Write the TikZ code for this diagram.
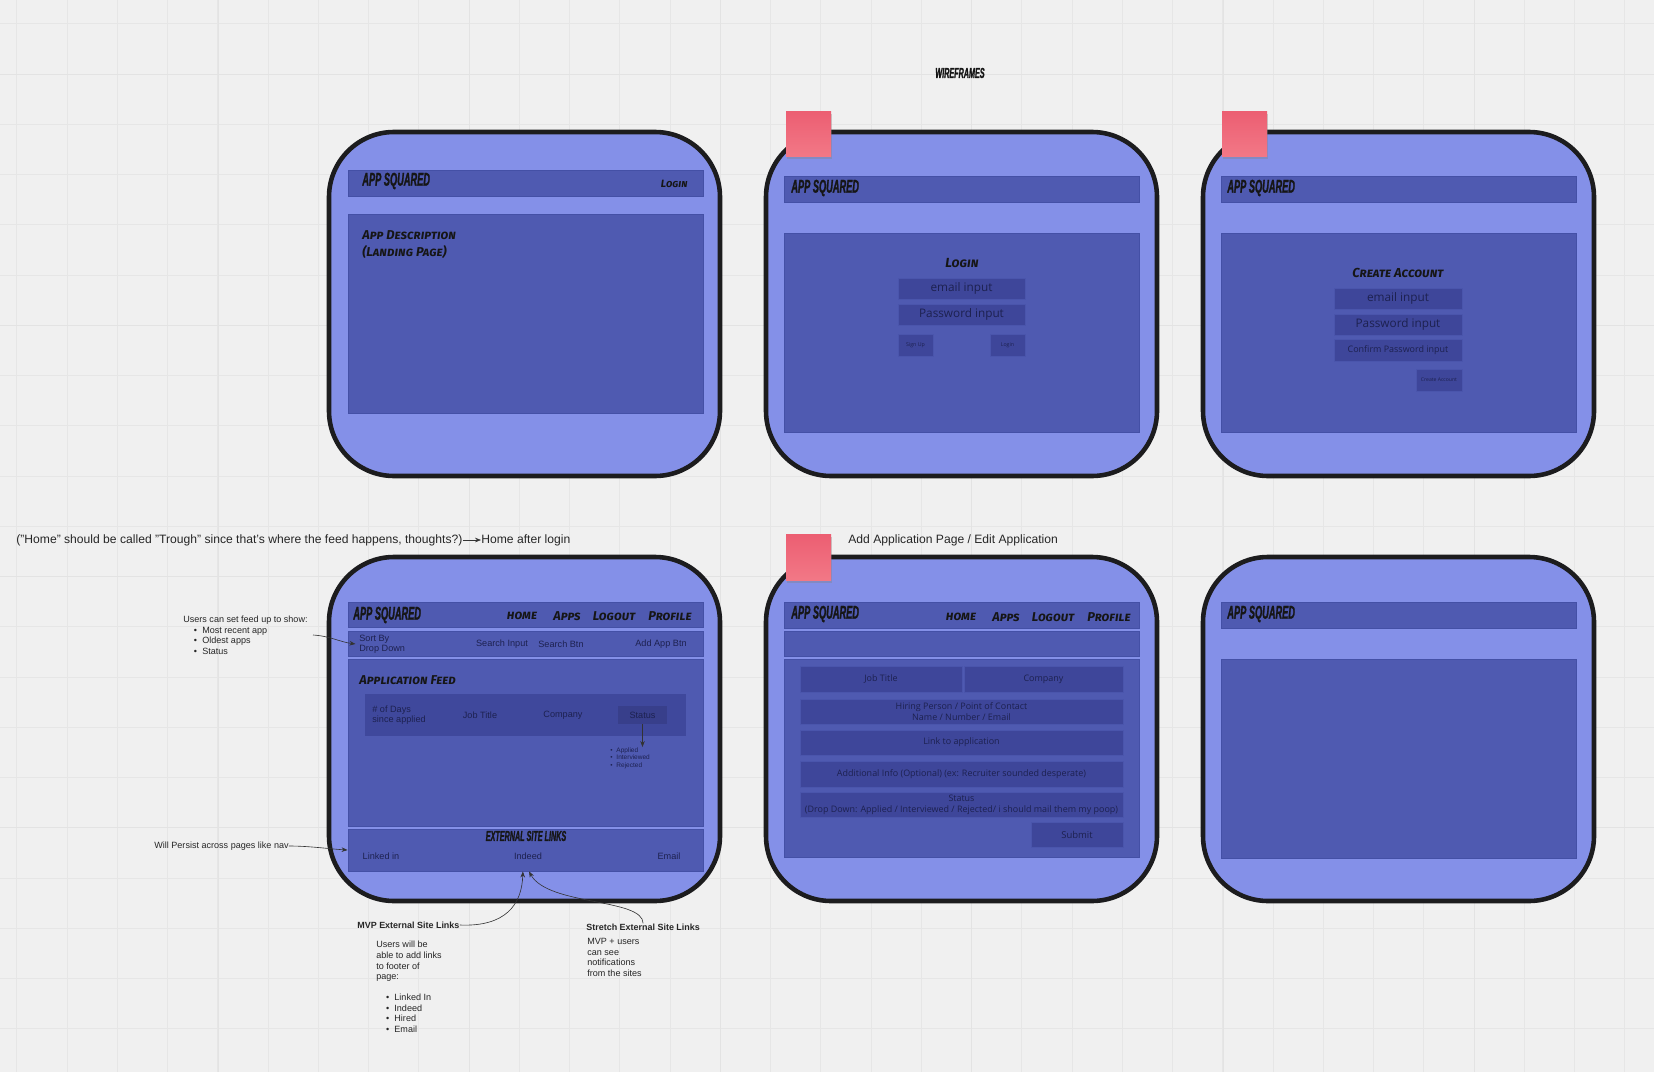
\documentclass[tikz,border=0pt]{standalone}
\usepackage{fontspec}
\setmainfont{Liberation Sans}
\newfontfamily\opensans{Open Sans}
\newfontfamily\logofont[FakeStretch=0.5, FakeBold=1.2]{Liberation Sans}
\newfontfamily\handfont[Letters=SmallCaps]{Fira Sans}
\usetikzlibrary{arrows.meta,fit,shadows}

\definecolor{bgcol}{HTML}{F0F0F0}
\definecolor{gridcol}{HTML}{E6E6E6}
\definecolor{gridmaj}{HTML}{E3E3E3}
\definecolor{framefill}{HTML}{8490E8}
\definecolor{framebd}{HTML}{1C1C1E}
\definecolor{panelfill}{HTML}{4F5AB1}
\definecolor{panelbd}{HTML}{4450A6}
\definecolor{fieldfill}{HTML}{3E469A}
\definecolor{fieldbd}{HTML}{4A55AC}
\definecolor{fieldtxt}{HTML}{1D2150}
\definecolor{ink}{HTML}{161616}
\definecolor{notetxt}{HTML}{262626}
\definecolor{arrowcol}{HTML}{333333}
\definecolor{stickytop}{HTML}{EC5E72}
\definecolor{stickybot}{HTML}{F27886}

\newcommand\fsz[2]{\fontsize{#1}{#2}\selectfont}

\begin{document}
\begin{tikzpicture}[x=0.02cm, y=-0.02cm,
  frame/.style={draw=framebd, line width=2.6pt, fill=framefill, rounded corners=1.3cm, inner sep=0pt},
  panel/.style={draw=panelbd, line width=0.5pt, fill=panelfill, inner sep=0pt},
  field/.style={draw=fieldbd, line width=0.4pt, fill=fieldfill, inner sep=0pt},
  flbl/.style={font=\opensans\fsz{5.1}{6.3}, text=fieldtxt, inner sep=0pt, align=center},
  sticky/.style={top color=stickytop, bottom color=stickybot, inner sep=0pt,
    drop shadow={shadow xshift=0.4pt, shadow yshift=-1.6pt, opacity=0.35}},
  logo/.style={font=\logofont\bfseries\itshape\fsz{10.5}{12}, text=ink, inner sep=0pt},
  hand/.style={font=\handfont\bfseries\itshape\fsz{7.3}{9.6}, text=ink, inner sep=0pt, align=left},
  wtxt/.style={font=\fsz{5.2}{5.7}, text=fieldtxt, inner sep=0pt, align=left},
  note/.style={font=\fsz{5.15}{6}, text=notetxt, inner sep=0pt, align=left},
  pin/.style={draw=arrowcol, line width=0.35pt, -{Stealth[length=3.4pt,width=2.6pt]}}]

  \useasboundingbox (0,0) rectangle (1654,1072);

  % fundal + grila
  \fill[bgcol] (0,0) rectangle (1654,1072);
  \foreach \gx in {16.8,67.05,...,1654} \draw[gridcol, line width=0.45pt] (\gx,0) -- (\gx,1072);
  \foreach \gy in {23.75,74,...,1072} \draw[gridcol, line width=0.45pt] (0,\gy) -- (1654,\gy);
  \foreach \gx in {218,469.25,...,1654} \draw[gridmaj, line width=0.55pt] (\gx,0) -- (\gx,1072);
  \foreach \gy in {74,325.25,...,1072} \draw[gridmaj, line width=0.55pt] (0,\gy) -- (1654,\gy);

  \node[logo, font=\logofont\bfseries\itshape\fsz{8.2}{9}] (title) at (960,73) {WIREFRAMES};

  % ecrane
  \node[frame, fit={(329,132) (720,476)}] (landing) {};
  \node[frame, fit={(766,132) (1157,476)}] (login) {};
  \node[frame, fit={(1203,132) (1594,476)}] (signup) {};
  \node[frame, fit={(329,557) (720,901)}] (home) {};
  \node[frame, fit={(766,557) (1157,901)}] (addapp) {};
  \node[frame, fit={(1203,557) (1594,901)}] (blank) {};

  % landing page
  \node[panel, fit={(348,170) (703,196)}] (hdrA) {};
  \node[panel, fit={(348,214) (703,413)}] (bodyA) {};
  \node[logo, anchor=west] (logoA) at (362,181) {APP SQUARED};
  \node[hand, font=\handfont\bfseries\itshape\fsz{6}{7}, anchor=east] (navA) at (688,184) {Login};
  \node[hand, anchor=west] (descA) at (362,245) {App Description\\(Landing Page)};

  % login
  \node[panel, fit={(784,176) (1139,202)}] (hdrB) {};
  \node[panel, fit={(784,233) (1139,432)}] (bodyB) {};
  \node[logo, anchor=west] (logoB) at (791,188) {APP SQUARED};
  \node[hand, font=\handfont\bfseries\itshape\fsz{7.5}{9}] (headB) at (962,263) {Login};
  \node[field, fit={(898,278) (1025,299)}, label={[flbl, font=\opensans\fsz{6.7}{8}]center:email input}] (emailB) {};
  \node[field, fit={(898,304) (1025,325)}, label={[flbl, font=\opensans\fsz{6.7}{8}]center:Password input}] (passB) {};
  \node[field, fit={(898,334) (933,356)}, label={[flbl, font=\opensans\fsz{3}{3.5}]center:Sign Up}] (signB) {};
  \node[field, fit={(990,334) (1025,356)}, label={[flbl, font=\opensans\fsz{3}{3.5}]center:Login}] (enterB) {};
  \node[sticky, fit={(786,111) (831,156)}] (noteB) {};

  % create account
  \node[panel, fit={(1221,176) (1576,202)}] (hdrC) {};
  \node[panel, fit={(1221,233) (1576,432)}] (bodyC) {};
  \node[logo, anchor=west] (logoC) at (1227,188) {APP SQUARED};
  \node[hand, font=\handfont\bfseries\itshape\fsz{7.4}{9}] (headC) at (1398,273) {Create Account};
  \node[field, fit={(1334,288) (1462,309)}, label={[flbl, font=\opensans\fsz{6.7}{8}]center:email input}] (emailC) {};
  \node[field, fit={(1334,314) (1462,335)}, label={[flbl, font=\opensans\fsz{6.7}{8}]center:Password input}] (passC) {};
  \node[field, fit={(1334,339) (1462,361)}, label={[flbl]center:Confirm Password input}] (confC) {};
  \node[field, fit={(1416,369) (1462,391)}, label={[flbl, font=\opensans\fsz{2.9}{3.5}]center:Create Account}] (createC) {};
  \node[sticky, fit={(1222,111) (1267,156)}] (noteC) {};

  % home / feed
  \node[panel, fit={(348,602) (703,627)}] (hdrD) {};
  \node[panel, fit={(348,631) (703,656)}] (barD) {};
  \node[panel, fit={(348,659) (703,826)}] (feedD) {};
  \node[panel, fit={(348,829) (703,871)}] (footD) {};
  \node[logo, anchor=west] (logoD) at (353,615) {APP SQUARED};
  \node[hand] (homeD) at (522,616) {home};
  \node[hand] (appsD) at (567,616) {Apps};
  \node[hand] (outD) at (614,616) {Logout};
  \node[hand] (profD) at (670,616) {Profile};
  \node[wtxt, anchor=west] (sortD) at (359,644) {Sort By\\Drop Down};
  \node[wtxt] (searchD) at (502,644) {Search Input};
  \node[wtxt] (btnD) at (561,644) {Search Btn};
  \node[wtxt] (addD) at (661,644) {Add App Btn};
  \node[hand, anchor=west] (feedhead) at (359,680) {Application Feed};
  \node[field, fill=fieldfill!92!panelfill, draw=none, fit={(365,694) (686,736)}] (rowD) {};
  \node[field, fill=fieldfill!90!black, draw=none, fit={(618,706) (667,724)}] (statD) {};
  \node[wtxt, anchor=west] (daysD) at (372,715) {\# of Days\\since applied};
  \node[wtxt] (jobD) at (480,715) {Job Title};
  \node[wtxt] (compD) at (563,715) {Company};
  \node[wtxt] (stattxt) at (statD) {Status};
  \node[wtxt, font=\fsz{3.7}{4.3}, anchor=north west] (statlist) at (610,747)
    {\textbullet\hspace{2.2pt}Applied\\\textbullet\hspace{2.2pt}Interviewed\\\textbullet\hspace{2.2pt}Rejected};
  \node[logo, font=\logofont\bfseries\itshape\fsz{8.2}{9}] (extD) at (526,836) {EXTERNAL SITE LINKS};
  \node[wtxt] (linkedD) at (381,856) {Linked in};
  \node[wtxt] (indeedD) at (528,856) {Indeed};
  \node[wtxt] (emailD) at (669,856) {Email};
  \draw[pin] (statD.south) -- (statD.south |- statlist.north);

  % add application
  \node[panel, fit={(784,602) (1139,628)}] (hdrE) {};
  \node[panel, fit={(784,631) (1139,656)}] (barE) {};
  \node[panel, fit={(784,659) (1139,857)}] (formE) {};
  \node[logo, anchor=west] (logoE) at (791,614) {APP SQUARED};
  \node[hand] (homeE) at (961,617) {home};
  \node[hand] (appsE) at (1006,617) {Apps};
  \node[hand] (outE) at (1053,617) {Logout};
  \node[hand] (profE) at (1109,617) {Profile};
  \node[field, fit={(800,666) (962,692)}, label={[flbl]center:Job Title}] (jobE) {};
  \node[field, fit={(964,666) (1123,692)}, label={[flbl]center:Company}] (compE) {};
  \node[field, fit={(800,699) (1123,724)}, label={[flbl]center:Hiring Person / Point of Contact\\Name / Number / Email}] (hireE) {};
  \node[field, fit={(800,730) (1123,755)}, label={[flbl]center:Link to application}] (linkE) {};
  \node[field, fit={(800,761) (1123,787)}, label={[flbl]center:Additional Info (Optional) (ex: Recruiter sounded desperate)}] (infoE) {};
  \node[field, fit={(800,792) (1123,817)}, label={[flbl]center:Status\\(Drop Down: Applied / Interviewed / Rejected/ i should mail them my poop)}] (statE) {};
  \node[field, fit={(1031,822) (1123,847)}, label={[flbl, font=\opensans\fsz{5.4}{6}]center:Submit}] (subE) {};
  \node[sticky, fit={(786,534) (831,580)}] (noteE) {};
  \node[note, font=\fsz{6.9}{8}, anchor=west] (addhead) at (848,540) {Add Application Page / Edit Application};

  % ecran gol
  \node[panel, fit={(1221,602) (1576,628)}] (hdrF) {};
  \node[panel, fit={(1221,659) (1576,858)}] (bodyF) {};
  \node[logo, anchor=west] (logoF) at (1227,614) {APP SQUARED};

  % notite
  \node[note, font=\fsz{6.9}{8}, anchor=west] (trough) at (16,540)
    {("Home" should be called "Trough" since that's where the feed happens, thoughts?)};
  \node[note, font=\fsz{6.9}{8}, anchor=west] (afterlogin) at (481,540) {Home after login};
  \draw[pin] (trough.east) -- (afterlogin.west);

  \node[note, anchor=north west] (feedup) at (183,616)
    {Users can set feed up to show:\\
     \hspace*{6pt}\textbullet\hspace{3pt}Most recent app\\
     \hspace*{6pt}\textbullet\hspace{3pt}Oldest apps\\
     \hspace*{6pt}\textbullet\hspace{3pt}Status};
  \coordinate (feedtail) at (313,635);
  \draw[pin] (feedtail) .. controls (330,636) and (340,642) .. ([xshift=-2pt]sortD.west);

  \node[note, anchor=west] (persist) at (154,846) {Will Persist across pages like nav};
  \draw[pin] (persist.east) .. controls (310,846) and (330,849) .. (footD.west);

  \node[note, font=\bfseries\fsz{5.1}{6}, anchor=west] (mvp) at (357,925) {MVP External Site Links};
  \node[note, anchor=north west] (mvpbody) at (376,941)
    {Users will be\\able to add links\\to footer of\\page:\\[6pt]
     \hspace*{5.5pt}\textbullet\hspace{3pt}Linked In\\
     \hspace*{5.5pt}\textbullet\hspace{3pt}Indeed\\
     \hspace*{5.5pt}\textbullet\hspace{3pt}Hired\\
     \hspace*{5.5pt}\textbullet\hspace{3pt}Email};
  \node[note, font=\bfseries\fsz{5.1}{6}, anchor=west] (stretch) at (586,927) {Stretch External Site Links};
  \node[note, anchor=north west] (stretchbody) at (587,938)
    {MVP + users\\can see\\notifications\\from the sites};
  \draw[pin] (mvp.east) .. controls (505,927) and (522,905) .. ([xshift=-1.5]footD.south);
  \draw[pin] (stretch.north) .. controls (643,898) and (548,906) .. ([xshift=2]footD.south);
\end{tikzpicture}
\end{document}
